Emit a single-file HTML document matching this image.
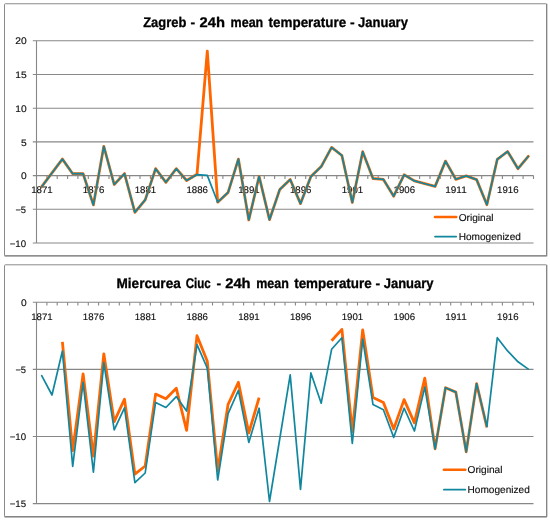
<!DOCTYPE html>
<html><head><meta charset="utf-8"><title>24h mean temperature - January</title>
<style>
html,body{margin:0;padding:0;background:#fff;}
svg{display:block;}
text{text-rendering:geometricPrecision;font-family:"Liberation Sans",sans-serif;fill:#111;}
.t{font-weight:bold;font-size:14px;fill:#000;stroke:#000;stroke-width:0.3px;}
.a,.l{stroke:#111;stroke-width:0.15px;}
.a{font-size:9.5px;}
.l{font-size:10px;}
</style></head><body>
<svg width="550" height="521" viewBox="0 0 550 521">
<rect width="550" height="521" fill="#fff"/>

<rect x="4.5" y="3.75" width="542.1" height="252.05" rx="0.8" fill="#fff" stroke="#8a8a8a" stroke-width="1"/>
<path d="M546.65 3.75 V255.9 H4.5" fill="none" stroke="#858585" stroke-width="1.3" stroke-linejoin="round"/>
<line x1="32.8" x2="533.5" y1="40.8" y2="40.8" stroke="#878787" stroke-width="1.1"/>
<text class="a" x="15.3" y="44.4" textLength="11.4" lengthAdjust="spacingAndGlyphs">20</text>
<line x1="32.8" x2="533.5" y1="74.5" y2="74.5" stroke="#878787" stroke-width="1.1"/>
<text class="a" x="15.3" y="78.1" textLength="11.4" lengthAdjust="spacingAndGlyphs">15</text>
<line x1="32.8" x2="533.5" y1="108.2" y2="108.2" stroke="#878787" stroke-width="1.1"/>
<text class="a" x="15.3" y="111.8" textLength="11.4" lengthAdjust="spacingAndGlyphs">10</text>
<line x1="32.8" x2="533.5" y1="141.9" y2="141.9" stroke="#878787" stroke-width="1.1"/>
<text class="a" x="21.0" y="145.5" textLength="5.7" lengthAdjust="spacingAndGlyphs">5</text>
<line x1="32.8" x2="533.5" y1="175.6" y2="175.6" stroke="#878787" stroke-width="1.1"/>
<text class="a" x="21.0" y="179.2" textLength="5.7" lengthAdjust="spacingAndGlyphs">0</text>
<line x1="32.8" x2="533.5" y1="209.3" y2="209.3" stroke="#878787" stroke-width="1.1"/>
<text class="a" x="15.4" y="212.9" textLength="10.7" lengthAdjust="spacingAndGlyphs">−5</text>
<line x1="32.8" x2="533.5" y1="243.0" y2="243.0" stroke="#878787" stroke-width="1.1"/>
<text class="a" x="9.7" y="246.6" textLength="16.4" lengthAdjust="spacingAndGlyphs">−10</text>
<line x1="36.5" x2="36.5" y1="40.8" y2="243.0" stroke="#878787" stroke-width="1.1"/>
<path d="M36.5 175.6 v3.3M46.9 175.6 v3.3M57.2 175.6 v3.3M67.6 175.6 v3.3M77.9 175.6 v3.3M88.3 175.6 v3.3M98.6 175.6 v3.3M109.0 175.6 v3.3M119.3 175.6 v3.3M129.7 175.6 v3.3M140.0 175.6 v3.3M150.4 175.6 v3.3M160.8 175.6 v3.3M171.1 175.6 v3.3M181.5 175.6 v3.3M191.8 175.6 v3.3M202.2 175.6 v3.3M212.5 175.6 v3.3M222.9 175.6 v3.3M233.2 175.6 v3.3M243.6 175.6 v3.3M253.9 175.6 v3.3M264.3 175.6 v3.3M274.6 175.6 v3.3M285.0 175.6 v3.3M295.4 175.6 v3.3M305.7 175.6 v3.3M316.1 175.6 v3.3M326.4 175.6 v3.3M336.8 175.6 v3.3M347.1 175.6 v3.3M357.5 175.6 v3.3M367.8 175.6 v3.3M378.2 175.6 v3.3M388.5 175.6 v3.3M398.9 175.6 v3.3M409.2 175.6 v3.3M419.6 175.6 v3.3M430.0 175.6 v3.3M440.3 175.6 v3.3M450.7 175.6 v3.3M461.0 175.6 v3.3M471.4 175.6 v3.3M481.7 175.6 v3.3M492.1 175.6 v3.3M502.4 175.6 v3.3M512.8 175.6 v3.3M523.1 175.6 v3.3M533.5 175.6 v3.3" stroke="#878787" stroke-width="1.1" fill="none"/>
<text class="a" x="41.9" y="193.0" text-anchor="middle" textLength="21.5" lengthAdjust="spacingAndGlyphs">1871</text>
<text class="a" x="93.6" y="193.0" text-anchor="middle" textLength="21.5" lengthAdjust="spacingAndGlyphs">1876</text>
<text class="a" x="145.4" y="193.0" text-anchor="middle" textLength="21.5" lengthAdjust="spacingAndGlyphs">1881</text>
<text class="a" x="197.2" y="193.0" text-anchor="middle" textLength="21.5" lengthAdjust="spacingAndGlyphs">1886</text>
<text class="a" x="249.0" y="193.0" text-anchor="middle" textLength="21.5" lengthAdjust="spacingAndGlyphs">1891</text>
<text class="a" x="300.7" y="193.0" text-anchor="middle" textLength="21.5" lengthAdjust="spacingAndGlyphs">1896</text>
<text class="a" x="352.5" y="193.0" text-anchor="middle" textLength="21.5" lengthAdjust="spacingAndGlyphs">1901</text>
<text class="a" x="404.3" y="193.0" text-anchor="middle" textLength="21.5" lengthAdjust="spacingAndGlyphs">1906</text>
<text class="a" x="456.0" y="193.0" text-anchor="middle" textLength="21.5" lengthAdjust="spacingAndGlyphs">1911</text>
<text class="a" x="507.8" y="193.0" text-anchor="middle" textLength="21.5" lengthAdjust="spacingAndGlyphs">1916</text>
<text class="t" y="26.5"><tspan x="143.2" textLength="43.1" lengthAdjust="spacingAndGlyphs">Zagreb</tspan> <tspan x="190.6">-</tspan> <tspan x="199.6" textLength="25.4" lengthAdjust="spacingAndGlyphs">24h</tspan> <tspan x="230.6" textLength="32.6" lengthAdjust="spacingAndGlyphs">mean</tspan> <tspan x="268.6" textLength="77.5" lengthAdjust="spacingAndGlyphs">temperature</tspan> <tspan x="350.0">-</tspan> <tspan x="358.1" textLength="49.8" lengthAdjust="spacingAndGlyphs">January</tspan></text>
<polyline points="41.7,186.7 52.0,172.9 62.4,159.1 72.7,173.7 83.1,173.7 93.4,204.9 103.8,146.3 114.2,184.5 124.5,173.6 134.9,212.3 145.2,199.9 155.6,168.7 165.9,182.3 176.3,168.7 186.6,180.5 197.0,174.3 207.3,51.2 217.7,202.2 228.1,192.4 238.4,159.1 248.8,219.9 259.1,176.4 269.5,219.7 279.8,189.4 290.2,179.5 300.5,203.6 310.9,176.6 321.2,166.6 331.6,147.4 341.9,155.5 352.3,202.5 362.7,151.7 373.0,178.5 383.4,179.4 393.7,196.2 404.1,174.8 414.4,180.9 424.8,183.7 435.1,186.4 445.5,161.1 455.8,179.3 466.2,175.9 476.6,179.6 486.9,204.7 497.3,159.3 507.6,151.5 518.0,168.7 528.3,156.3" fill="none" stroke="#FF6600" stroke-width="2.8" stroke-linejoin="round" stroke-linecap="round"/>
<polyline points="41.7,186.7 52.0,172.9 62.4,159.1 72.7,173.7 83.1,173.7 93.4,204.9 103.8,146.3 114.2,184.5 124.5,173.6 134.9,212.3 145.2,199.9 155.6,168.7 165.9,182.3 176.3,168.7 186.6,180.5 197.0,174.6 207.3,175.4 217.7,202.2 228.1,192.4 238.4,159.1 248.8,219.9 259.1,176.4 269.5,219.7 279.8,189.4 290.2,179.5 300.5,203.6 310.9,176.6 321.2,166.6 331.6,147.4 341.9,155.5 352.3,202.5 362.7,151.7 373.0,178.5 383.4,179.4 393.7,196.2 404.1,174.8 414.4,180.9 424.8,183.7 435.1,186.4 445.5,161.1 455.8,179.3 466.2,175.9 476.6,179.6 486.9,204.7 497.3,159.3 507.6,151.5 518.0,168.7 528.3,156.3" fill="none" stroke="#10879F" stroke-width="1.7" stroke-linejoin="round" stroke-linecap="round"/>
<line x1="435" x2="456.2" y1="217" y2="217" stroke="#FF6600" stroke-width="2.6" stroke-linecap="round"/>
<line x1="435" x2="456.2" y1="236.6" y2="236.6" stroke="#10879F" stroke-width="1.8" stroke-linecap="round"/>
<text class="l" x="458.7" y="220.5" textLength="34.9" lengthAdjust="spacingAndGlyphs">Original</text>
<text class="l" x="458.7" y="240.1" textLength="62.2" lengthAdjust="spacingAndGlyphs">Homogenized</text>
<rect x="4.5" y="264.8" width="542.1" height="251.84999999999997" rx="0.8" fill="#fff" stroke="#8a8a8a" stroke-width="1"/>
<path d="M546.65 264.8 V516.75 H4.5" fill="none" stroke="#858585" stroke-width="1.3" stroke-linejoin="round"/>
<line x1="32.8" x2="533.5" y1="302.3" y2="302.3" stroke="#878787" stroke-width="1.1"/>
<text class="a" x="21.0" y="305.9" textLength="5.7" lengthAdjust="spacingAndGlyphs">0</text>
<line x1="32.8" x2="533.5" y1="369.4" y2="369.4" stroke="#878787" stroke-width="1.1"/>
<text class="a" x="15.4" y="373.0" textLength="10.7" lengthAdjust="spacingAndGlyphs">−5</text>
<line x1="32.8" x2="533.5" y1="436.5" y2="436.5" stroke="#878787" stroke-width="1.1"/>
<text class="a" x="9.7" y="440.1" textLength="16.4" lengthAdjust="spacingAndGlyphs">−10</text>
<line x1="32.8" x2="533.5" y1="503.6" y2="503.6" stroke="#878787" stroke-width="1.1"/>
<text class="a" x="9.7" y="507.2" textLength="16.4" lengthAdjust="spacingAndGlyphs">−15</text>
<line x1="36.5" x2="36.5" y1="302.3" y2="503.6" stroke="#878787" stroke-width="1.1"/>
<path d="M36.5 302.3 v3.3M46.9 302.3 v3.3M57.2 302.3 v3.3M67.6 302.3 v3.3M77.9 302.3 v3.3M88.3 302.3 v3.3M98.6 302.3 v3.3M109.0 302.3 v3.3M119.3 302.3 v3.3M129.7 302.3 v3.3M140.0 302.3 v3.3M150.4 302.3 v3.3M160.8 302.3 v3.3M171.1 302.3 v3.3M181.5 302.3 v3.3M191.8 302.3 v3.3M202.2 302.3 v3.3M212.5 302.3 v3.3M222.9 302.3 v3.3M233.2 302.3 v3.3M243.6 302.3 v3.3M253.9 302.3 v3.3M264.3 302.3 v3.3M274.6 302.3 v3.3M285.0 302.3 v3.3M295.4 302.3 v3.3M305.7 302.3 v3.3M316.1 302.3 v3.3M326.4 302.3 v3.3M336.8 302.3 v3.3M347.1 302.3 v3.3M357.5 302.3 v3.3M367.8 302.3 v3.3M378.2 302.3 v3.3M388.5 302.3 v3.3M398.9 302.3 v3.3M409.2 302.3 v3.3M419.6 302.3 v3.3M430.0 302.3 v3.3M440.3 302.3 v3.3M450.7 302.3 v3.3M461.0 302.3 v3.3M471.4 302.3 v3.3M481.7 302.3 v3.3M492.1 302.3 v3.3M502.4 302.3 v3.3M512.8 302.3 v3.3M523.1 302.3 v3.3M533.5 302.3 v3.3" stroke="#878787" stroke-width="1.1" fill="none"/>
<text class="a" x="41.9" y="319.7" text-anchor="middle" textLength="21.5" lengthAdjust="spacingAndGlyphs">1871</text>
<text class="a" x="93.6" y="319.7" text-anchor="middle" textLength="21.5" lengthAdjust="spacingAndGlyphs">1876</text>
<text class="a" x="145.4" y="319.7" text-anchor="middle" textLength="21.5" lengthAdjust="spacingAndGlyphs">1881</text>
<text class="a" x="197.2" y="319.7" text-anchor="middle" textLength="21.5" lengthAdjust="spacingAndGlyphs">1886</text>
<text class="a" x="249.0" y="319.7" text-anchor="middle" textLength="21.5" lengthAdjust="spacingAndGlyphs">1891</text>
<text class="a" x="300.7" y="319.7" text-anchor="middle" textLength="21.5" lengthAdjust="spacingAndGlyphs">1896</text>
<text class="a" x="352.5" y="319.7" text-anchor="middle" textLength="21.5" lengthAdjust="spacingAndGlyphs">1901</text>
<text class="a" x="404.3" y="319.7" text-anchor="middle" textLength="21.5" lengthAdjust="spacingAndGlyphs">1906</text>
<text class="a" x="456.0" y="319.7" text-anchor="middle" textLength="21.5" lengthAdjust="spacingAndGlyphs">1911</text>
<text class="a" x="507.8" y="319.7" text-anchor="middle" textLength="21.5" lengthAdjust="spacingAndGlyphs">1916</text>
<text class="t" y="287.9"><tspan x="116.5" textLength="64.3" lengthAdjust="spacingAndGlyphs">Miercurea</tspan> <tspan x="185.7" textLength="25.1" lengthAdjust="spacingAndGlyphs">Ciuc</tspan> <tspan x="216.5">-</tspan> <tspan x="225.2" textLength="25.4" lengthAdjust="spacingAndGlyphs">24h</tspan> <tspan x="256.2" textLength="32.6" lengthAdjust="spacingAndGlyphs">mean</tspan> <tspan x="294.2" textLength="77.5" lengthAdjust="spacingAndGlyphs">temperature</tspan> <tspan x="375.6">-</tspan> <tspan x="383.7" textLength="49.8" lengthAdjust="spacingAndGlyphs">January</tspan></text>
<polyline points="62.4,341.9 72.7,450.5 83.1,374.0 93.4,456.2 103.8,353.8 114.2,421.7 124.5,399.2 134.9,474.1 145.2,466.0 155.6,394.1 165.9,398.8 176.3,388.3 186.6,430.3 197.0,335.7 207.3,361.3 217.7,470.6 228.1,404.3 238.4,382.3 248.8,433.0 259.1,397.6" fill="none" stroke="#FF6600" stroke-width="2.8" stroke-linejoin="round" stroke-linecap="butt"/>
<polyline points="331.6,340.7 341.9,329.4 352.3,431.7 362.7,329.9 373.0,397.6 383.4,402.5 393.7,429.0 404.1,399.6 414.4,422.9 424.8,378.1 435.1,448.8 445.5,387.7 455.8,392.1 466.2,451.8 476.6,383.6 486.9,427.4" fill="none" stroke="#FF6600" stroke-width="2.8" stroke-linejoin="round" stroke-linecap="butt"/>
<polyline points="41.7,375.7 52.0,395.0 62.4,351.0 72.7,466.4 83.1,382.3 93.4,472.2 103.8,362.6 114.2,429.9 124.5,407.8 134.9,482.7 145.2,473.0 155.6,402.4 165.9,407.5 176.3,396.6 186.6,411.1 197.0,344.7 207.3,368.1 217.7,480.0 228.1,413.7 238.4,390.3 248.8,442.4 259.1,408.2 269.5,501.5 279.8,438.5 290.2,374.9 300.5,489.4 310.9,372.9 321.2,403.2 331.6,349.3 341.9,337.7 352.3,443.5 362.7,339.2 373.0,404.6 383.4,409.7 393.7,437.4 404.1,408.2 414.4,431.0 424.8,387.1 435.1,448.8 445.5,387.7 455.8,392.1 466.2,451.8 476.6,383.6 486.9,426.6 497.3,337.7 507.6,350.9 518.0,361.8 528.3,369.1" fill="none" stroke="#10879F" stroke-width="1.7" stroke-linejoin="round" stroke-linecap="round"/>
<line x1="443.9" x2="465.3" y1="469.8" y2="469.8" stroke="#FF6600" stroke-width="2.6" stroke-linecap="round"/>
<line x1="443.9" x2="465.3" y1="489.7" y2="489.7" stroke="#10879F" stroke-width="1.8" stroke-linecap="round"/>
<text class="l" x="467.6" y="473.3" textLength="34.9" lengthAdjust="spacingAndGlyphs">Original</text>
<text class="l" x="467.6" y="493.2" textLength="62.2" lengthAdjust="spacingAndGlyphs">Homogenized</text>
</svg></body></html>
